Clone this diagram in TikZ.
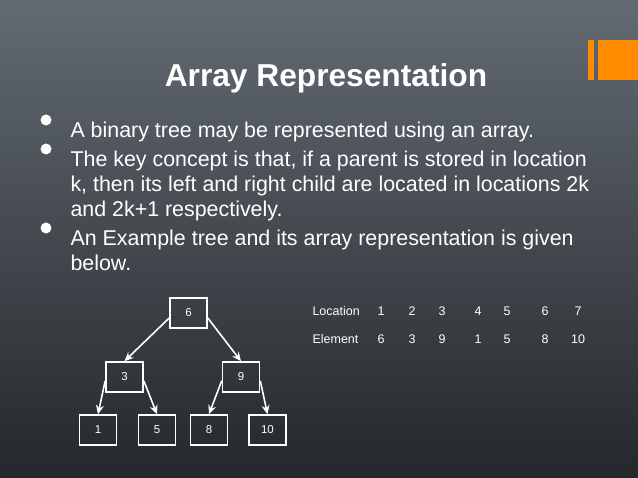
\documentclass[tikz,border=0pt]{standalone}
\usepackage{fontspec}
\setmainfont{Liberation Sans}
\usetikzlibrary{arrows.meta}
\begin{document}
\begin{tikzpicture}[x=1pt,y=-1pt,
  box/.style={draw=white,line width=1.6pt,minimum width=37pt,minimum height=30pt,inner sep=0pt,text=white,font=\fontsize{11.5}{13}\selectfont},
  arr/.style={draw=white,line width=1.6pt,-{Stealth[length=9pt,width=8pt]}},
  txt/.style={text=white,anchor=base west,font=\fontsize{21.4}{24}\selectfont},
  tb/.style={text=white,anchor=base,font=\fontsize{12.5}{14}\selectfont},
  bul/.style={fill=white,circle,inner sep=0pt,minimum size=11pt}]
\shade[top color={rgb,255:red,99;green,106;blue,114},bottom color={rgb,255:red,36;green,40;blue,44}] (0,0) rectangle (638,478);
\useasboundingbox (0,0) rectangle (638,478);
\fill[orange!90!yellow] (588,40) rectangle (594,80);
\fill[orange!90!yellow] (598,40) rectangle (638,80);
\node[text=white,font=\bfseries\fontsize{31.7}{36}\selectfont] (title) at (326,78) {Array Representation};
\node[bul] (b1) at (46,120) {};
\node[bul] (b2) at (46,149) {};
\node[bul] (b3) at (46,228) {};
\node[txt] (l1) at (67,138) {A binary tree may be represented using an array.};
\node[txt] (l2) at (67,167) {The key concept is that, if a parent is stored in location};
\node[txt] (l3) at (67,192) {k, then its left and right child are located in locations 2k};
\node[txt] (l4) at (67,217) {and 2k+1 respectively.};
\node[txt] (l5) at (67,246) {An Example tree and its array representation is given};
\node[txt] (l6) at (67,271) {below.};
\node[box] (n6) at (188.5,313) {6};
\node[box] (n3) at (124.5,377) {3};
\node[box] (n9) at (241,377) {9};
\node[box] (n1) at (98,430) {1};
\node[box] (n5) at (157,430) {5};
\node[box] (n8) at (209,430) {8};
\node[box] (n10) at (267.5,430) {10};
\draw[arr] ([yshift=-5pt]n6.west) -- (n3.north);
\draw[arr] ([yshift=-5pt]n6.east) -- (n9.north);
\draw[arr] ([yshift=12pt]n3.south west) -- (n1.north);
\draw[arr] ([yshift=12pt]n3.south east) -- (n5.north);
\draw[arr] ([yshift=12pt]n9.south west) -- (n8.north);
\draw[arr] ([yshift=12pt]n9.south east) -- (n10.north);
\node[tb,anchor=base west] (loc) at (309,316) {Location};
\node[tb,anchor=base west] (ele) at (309,344) {Element};
\foreach \x/\a/\b [count=\i] in {381/1/6,412/2/3,442/3/9,478/4/1,507/5/5,545/6/8,578/7/10}{
  \node[tb] (a\i) at (\x,316) {\a};
  \node[tb] (e\i) at (\x,344) {\b};
}
\end{tikzpicture}
\end{document}
